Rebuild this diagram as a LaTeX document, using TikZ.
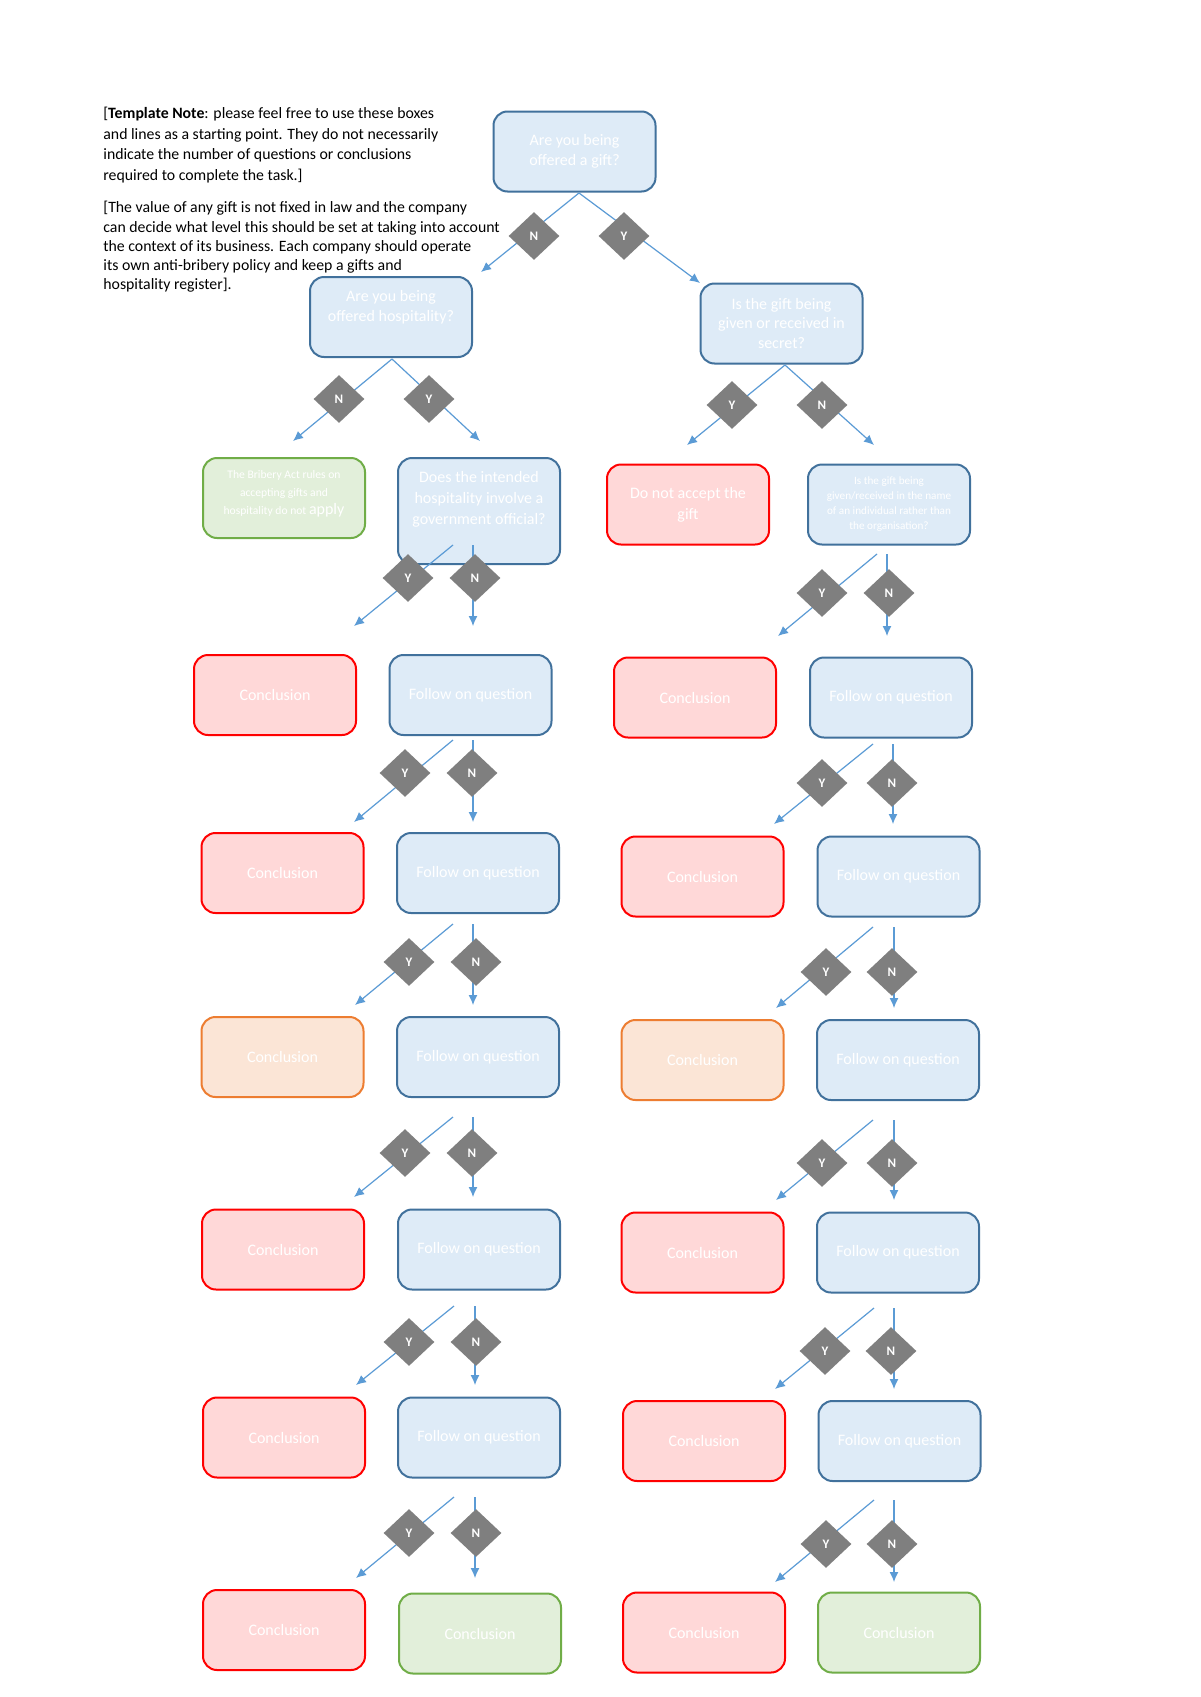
\documentclass[tikz,border=0pt]{standalone}
\usepackage{fontspec}
\setmainfont{Carlito}
\usetikzlibrary{shapes.geometric,arrows.meta}
\definecolor{qfill}{HTML}{DEEBF7}
\definecolor{qdraw}{HTML}{41719C}
\definecolor{rfill}{HTML}{FFD8D8}
\definecolor{rdraw}{HTML}{FF0000}
\definecolor{gfill}{HTML}{E2EFDA}
\definecolor{gdraw}{HTML}{70AD47}
\definecolor{ofill}{HTML}{FBE5D6}
\definecolor{odraw}{HTML}{ED7D31}
\definecolor{arr}{HTML}{5B9BD5}
\definecolor{dia}{HTML}{7F7F7F}
\tikzset{
  box/.style={rounded corners=7pt, line width=1pt, minimum width=81pt, minimum height=40pt,
    inner sep=1pt, align=center, text=white, font=\fontsize{8}{10}\selectfont},
  qbox/.style={box, fill=qfill, draw=qdraw},
  rbox/.style={box, fill=rfill, draw=rdraw},
  gbox/.style={box, fill=gfill, draw=gdraw},
  obox/.style={box, fill=ofill, draw=odraw},
  yn/.style={diamond, fill=dia, minimum width=25.5pt, minimum height=24pt, inner sep=0pt,
    text=white, font=\fontsize{6.5}{7}\selectfont\bfseries},
  link/.style={draw=arr, line width=0.6pt, -{Latex[length=5pt,width=4.5pt]}},
  note/.style={anchor=north west, inner sep=0pt, align=left}
}
\begin{document}
\begin{tikzpicture}[x=0.5pt, y=-0.5pt]
\path[use as bounding box, fill=white] (0,0) rectangle (1200,1697);

% note text
\node[note, font=\fontsize{7.9}{10.2}\selectfont] (note1) at (103,107) {[\textbf{Template Note}: please feel free to use these boxes\\and lines as a starting point. They do not necessarily\\indicate the number of questions or conclusions\\required to complete the task.]};
\node[note, font=\fontsize{7.9}{9.6}\selectfont] (note2) at (103,201) {[The value of any gift is not fixed in law and the company\\can decide what level this should be set at taking into account\\the context of its business. Each company should operate\\its own anti-bribery policy and keep a gifts and\\hospitality register].};

% boxes
\node[qbox] (q1) at (574.5,151.5) {Are you being\\offered a gift?};
\node[qbox] (q2) at (391,317) {Are you being\\offered hospitality?\\[1pt]};
\node[qbox] (q3) at (781.5,323.5) {Is the gift being\\given or received in\\secret?};
\node[gbox, font=\fontsize{5.8}{9}\selectfont] (g1) at (284,498) {The Bribery Act rules on\\accepting gifts and\\hospitality do not {\fontsize{8}{8}\selectfont apply}\\[-3pt]};
\node[qbox, minimum height=53pt, font=\fontsize{8}{10.5}\selectfont] (q4) at (479,511) {Does the intended\\hospitality involve a\\government official?\\[2.5pt]};
\node[rbox, font=\fontsize{8}{10.5}\selectfont] (r1) at (688,504.5) {Do not accept the\\gift};
\node[qbox, font=\fontsize{5.6}{7.5}\selectfont] (q5) at (889,504.5) {Is the gift being\\given/received in the name\\of an individual rather than\\the organisation?};

% left column
\node[rbox] (Lc1) at (275,695) {Conclusion};
\node[qbox] (Lq1) at (470.5,695) {Follow on question};
\node[rbox] (Lc2) at (282.5,873) {Conclusion};
\node[qbox] (Lq2) at (478,873) {Follow on question};
\node[obox] (Lc3) at (282.5,1057) {Conclusion};
\node[qbox] (Lq3) at (478,1057) {Follow on question};
\node[rbox] (Lc4) at (283,1249.5) {Conclusion};
\node[qbox] (Lq4) at (479,1249.5) {Follow on question};
\node[rbox] (Lc5) at (284,1437.5) {Conclusion};
\node[qbox] (Lq5) at (479,1437.5) {Follow on question};
\node[rbox] (Lc6) at (284,1630) {Conclusion};
\node[gbox] (Lg6) at (480,1633.5) {Conclusion};

% right column
\node[rbox] (Rc1) at (695,697.5) {Conclusion};
\node[qbox] (Rq1) at (891,697.5) {Follow on question};
\node[rbox] (Rc2) at (702.5,876.5) {Conclusion};
\node[qbox] (Rq2) at (898.5,876.5) {Follow on question};
\node[obox] (Rc3) at (702.5,1060) {Conclusion};
\node[qbox] (Rq3) at (898,1060) {Follow on question};
\node[rbox] (Rc4) at (702.5,1252.5) {Conclusion};
\node[qbox] (Rq4) at (898,1252.5) {Follow on question};
\node[rbox] (Rc5) at (704,1441) {Conclusion};
\node[qbox] (Rq5) at (899.5,1441) {Follow on question};
\node[rbox] (Rc6) at (704,1632.5) {Conclusion};
\node[gbox] (Rg6) at (899,1632.5) {Conclusion};

% connector start points and tips
\coordinate (s1) at (579,193);
\coordinate (t1n) at (481,272); \coordinate (t1y) at (700,283);
\coordinate (s2) at (392,359);
\coordinate (t2n) at (293,441); \coordinate (t2y) at (480,441);
\coordinate (s3) at (785,365);
\coordinate (t3y) at (687,445); \coordinate (t3n) at (874,445);
\coordinate (s4y) at (453,545); \coordinate (s4n) at (473,545);
\coordinate (t4y) at (354,626); \coordinate (t4n) at (473,626);
\coordinate (s5y) at (877,554); \coordinate (s5n) at (887,554);
\coordinate (t5y) at (778,636); \coordinate (t5n) at (887,636);
% left rows
\coordinate (L1ys) at (453,740); \coordinate (L1ns) at (473,740);
\coordinate (L1yt) at (354,822); \coordinate (L1nt) at (473,822);
\coordinate (L2ys) at (453,924); \coordinate (L2ns) at (473,924);
\coordinate (L2yt) at (355,1005); \coordinate (L2nt) at (473,1005);
\coordinate (L3ys) at (453,1117); \coordinate (L3ns) at (473,1117);
\coordinate (L3yt) at (354,1197); \coordinate (L3nt) at (473,1197);
\coordinate (L4ys) at (454,1306); \coordinate (L4ns) at (475,1306);
\coordinate (L4yt) at (356,1385); \coordinate (L4nt) at (475,1385);
\coordinate (L5ys) at (454,1497); \coordinate (L5ns) at (475,1497);
\coordinate (L5yt) at (356,1578); \coordinate (L5nt) at (475,1578);
% right rows
\coordinate (R1ys) at (873,744); \coordinate (R1ns) at (893,744);
\coordinate (R1yt) at (774,824); \coordinate (R1nt) at (893,824);
\coordinate (R2ys) at (873,927); \coordinate (R2ns) at (894,927);
\coordinate (R2yt) at (776,1008); \coordinate (R2nt) at (894,1008);
\coordinate (R3ys) at (873,1120); \coordinate (R3ns) at (894,1120);
\coordinate (R3yt) at (776,1200); \coordinate (R3nt) at (894,1200);
\coordinate (R4ys) at (874,1308); \coordinate (R4ns) at (894,1308);
\coordinate (R4yt) at (775,1389); \coordinate (R4nt) at (894,1389);
\coordinate (R5ys) at (874,1500); \coordinate (R5ns) at (894,1500);
\coordinate (R5yt) at (775,1582); \coordinate (R5nt) at (894,1582);

% connectors
\draw[link] (s1) -- (t1n); \draw[link] (s1) -- (t1y);
\draw[link] (s2) -- (t2n); \draw[link] (s2) -- (t2y);
\draw[link] (s3) -- (t3y); \draw[link] (s3) -- (t3n);
\draw[link] (s4y) -- (t4y); \draw[link] (s4n) -- (t4n);
\draw[link] (s5y) -- (t5y); \draw[link] (s5n) -- (t5n);
\foreach \r in {1,...,5}{
  \draw[link] (L\r ys) -- (L\r yt); \draw[link] (L\r ns) -- (L\r nt);
  \draw[link] (R\r ys) -- (R\r yt); \draw[link] (R\r ns) -- (R\r nt);
}

% diamonds
\node[yn] (d1n) at (534,236) {N};
\node[yn] (d1y) at (624,236) {Y};
\node[yn] (d2n) at (339,399) {N};
\node[yn] (d2y) at (429,399) {Y};
\node[yn] (d3y) at (732,405) {Y};
\node[yn] (d3n) at (822,405) {N};
\node[yn] (d4y) at (408,578) {Y};
\node[yn] (d4n) at (475,578) {N};
\node[yn] (d5y) at (822,593) {Y};
\node[yn] (d5n) at (889,593) {N};
\node[yn] (dL1y) at (405,773) {Y};  \node[yn] (dL1n) at (472,773) {N};
\node[yn] (dL2y) at (409,962) {Y};  \node[yn] (dL2n) at (476,962) {N};
\node[yn] (dL3y) at (405,1153) {Y}; \node[yn] (dL3n) at (472,1153) {N};
\node[yn] (dL4y) at (409,1342) {Y}; \node[yn] (dL4n) at (476,1342) {N};
\node[yn] (dL5y) at (409,1533) {Y}; \node[yn] (dL5n) at (476,1533) {N};
\node[yn] (dR1y) at (822,783) {Y};  \node[yn] (dR1n) at (892,783) {N};
\node[yn] (dR2y) at (826,972) {Y};  \node[yn] (dR2n) at (892,972) {N};
\node[yn] (dR3y) at (822,1163) {Y}; \node[yn] (dR3n) at (892,1163) {N};
\node[yn] (dR4y) at (825,1351) {Y}; \node[yn] (dR4n) at (891,1351) {N};
\node[yn] (dR5y) at (826,1544) {Y}; \node[yn] (dR5n) at (892,1544) {N};
\end{tikzpicture}
\end{document}
